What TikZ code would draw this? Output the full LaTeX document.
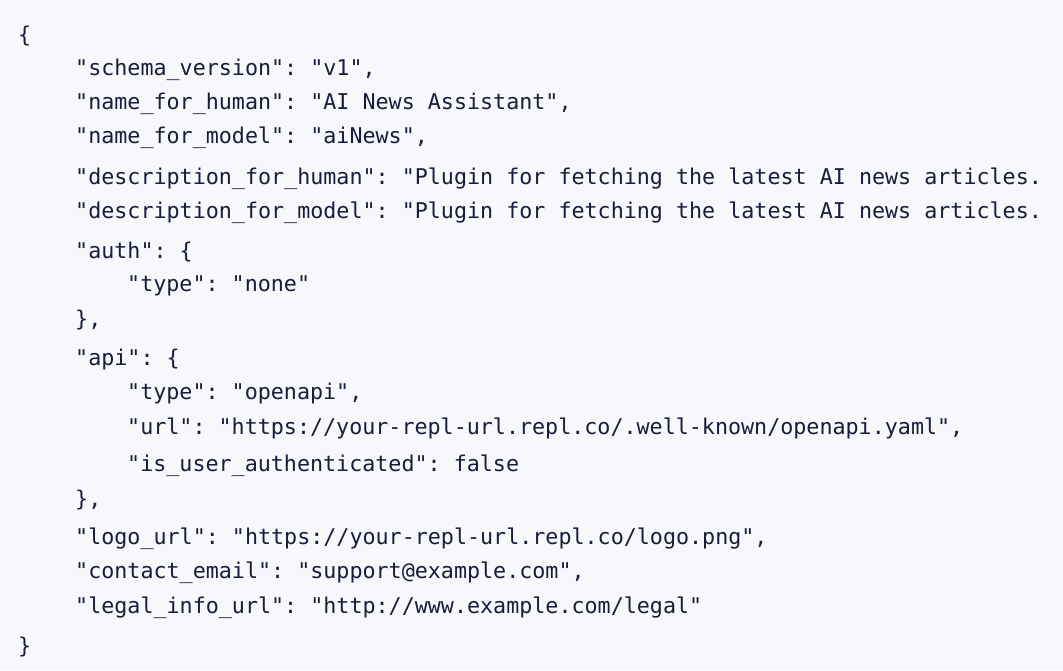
\documentclass[tikz,border=0pt]{standalone}
\usepackage{fontspec}
\setmonofont{DejaVu Sans Mono}
\usetikzlibrary{positioning}
\definecolor{codebg}{HTML}{F6F8FB}
\definecolor{codefg}{HTML}{1B1B3A}

\begin{document}
\begin{tikzpicture}[
        x=1pt, y=-1pt,
        code/.style={anchor=west, inner sep=0pt, text=codefg, font=\ttfamily\fontsize{21.7}{26}\selectfont}
        ]
        \fill[codebg] (0,0) rectangle (1063,670);
        \useasboundingbox (0,0) rectangle (1063,670);
        \clip (0,0) rectangle (1063,670);

        \node[code] (l1) at (18,36) {\{};
        \node[code] (l2) at (75,70) {"schema\_version": "v1",};
        \node[code] (l3) at (75,104) {"name\_for\_human": "AI News Assistant",};
        \node[code] (l4) at (75,138) {"name\_for\_model": "aiNews",};
        \node[code] (l5) at (75,179) {"description\_for\_human": "Plugin for fetching the latest AI news articles.};
        \node[code] (l6) at (75,213) {"description\_for\_model": "Plugin for fetching the latest AI news articles.};
        \node[code] (l7) at (75,252) {"auth": \{};
        \node[code] (l8) at (127,286) {"type": "none"};
        \node[code] (l9) at (75,320) {\},};
        \node[code] (l10) at (75,360) {"api": \{};
        \node[code] (l11) at (127,394) {"type": "openapi",};
        \node[code] (l12) at (127,428) {"url": "https://your-repl-url.repl.co/.well-known/openapi.yaml",};
        \node[code] (l13) at (127,466) {"is\_user\_authenticated": false};
        \node[code] (l14) at (75,500) {\},};
        \node[code] (l15) at (75,539) {"logo\_url": "https://your-repl-url.repl.co/logo.png",};
        \node[code] (l16) at (75,573) {"contact\_email": "support@example.com",};
        \node[code] (l17) at (75,608) {"legal\_info\_url": "http://www.example.com/legal"};
        \node[code] (l18) at (18,647) {\}};
    \end{tikzpicture}
\end{document}
